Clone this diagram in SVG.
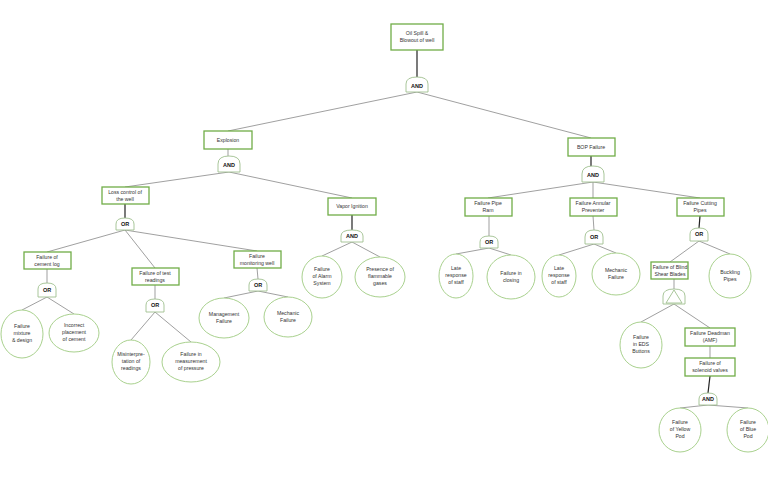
<svg xmlns="http://www.w3.org/2000/svg" width="768" height="504" viewBox="0 0 768 504">
<style>
.b{fill:#fff;stroke:#70ad47;stroke-width:1.3}
.e{fill:#fff;stroke:#a9d18e;stroke-width:1}
.g{fill:#fff;stroke:#9fbf8f;stroke-width:0.9}
.c line{stroke:#777;stroke-width:0.7}
.c line.k{stroke:#222;stroke-width:1.2}
text{font-family:"Liberation Sans",Arial,sans-serif;font-size:5.2px;fill:#333;text-anchor:middle}
.gt{font-weight:bold;font-size:5.5px;fill:#111}
</style>
<rect width="768" height="504" fill="#fff"/>
<g class="c">
<line class="k" x1="417" y1="50" x2="417" y2="77"/>
<line x1="417" y1="92" x2="228" y2="131"/>
<line x1="417" y1="92" x2="591" y2="138"/>
<line x1="228" y1="149" x2="228" y2="156"/>
<line class="k" x1="591" y1="156" x2="591" y2="166"/>
<line x1="229" y1="172" x2="125" y2="187"/>
<line x1="229" y1="172" x2="352" y2="198"/>
<line class="k" x1="125" y1="204" x2="125" y2="218"/>
<line class="k" x1="352" y1="215" x2="352" y2="230"/>
<line x1="125" y1="230" x2="47" y2="252"/>
<line x1="125" y1="230" x2="155" y2="268"/>
<line x1="125" y1="230" x2="257" y2="251"/>
<line x1="47" y1="269" x2="47" y2="283"/>
<line x1="155" y1="285" x2="155" y2="299"/>
<line x1="257" y1="268" x2="258" y2="279"/>
<line x1="47" y1="297" x2="22" y2="310"/>
<line x1="47" y1="297" x2="74" y2="314"/>
<line x1="155" y1="312" x2="131" y2="340"/>
<line x1="155" y1="312" x2="191" y2="342"/>
<line x1="258" y1="291" x2="224" y2="298"/>
<line x1="258" y1="291" x2="288" y2="297"/>
<line x1="352" y1="242" x2="322" y2="256"/>
<line x1="352" y1="242" x2="380" y2="257"/>
<line x1="593" y1="182" x2="488" y2="198"/>
<line x1="593" y1="182" x2="593" y2="198"/>
<line x1="593" y1="182" x2="700" y2="198"/>
<line x1="489" y1="216" x2="489" y2="236"/>
<line x1="593" y1="216" x2="594" y2="230"/>
<line class="k" x1="700" y1="216" x2="699" y2="228"/>
<line x1="489" y1="248" x2="456" y2="254"/>
<line x1="489" y1="248" x2="511" y2="255"/>
<line x1="594" y1="244" x2="559" y2="255"/>
<line x1="594" y1="244" x2="616" y2="253"/>
<line x1="699" y1="241" x2="670" y2="262"/>
<line x1="699" y1="241" x2="730" y2="254"/>
<line x1="674" y1="279" x2="674" y2="289"/>
<line x1="674" y1="304" x2="641" y2="322"/>
<line x1="674" y1="304" x2="710" y2="328"/>
<line x1="710" y1="346" x2="710" y2="358"/>
<line class="k" x1="710" y1="376" x2="708" y2="393"/>
<line x1="708" y1="405" x2="680" y2="408"/>
<line x1="708" y1="405" x2="748" y2="408"/>
</g>
<g id="top"><rect class="b" x="391" y="24" width="52" height="26"/><text x="417" y="35">Oil Spill &amp;</text><text x="417" y="42">Blowout of well</text></g>
<g id="g-and1"><path class="g" d="M406 92V84Q406 77 417 77Q428 77 428 84V92Z"/><text class="gt" x="417" y="88">AND</text></g>
<g id="explosion"><rect class="b" x="204" y="131" width="48" height="18"/><text x="228" y="142">Explosion</text></g>
<g id="g-and2"><path class="g" d="M218 172V164Q218 156 229 156Q240 156 240 164V172Z"/><text class="gt" x="229" y="167">AND</text></g>
<g id="bop"><rect class="b" x="568" y="138" width="47" height="18"/><text x="591" y="149">BOP Failure</text></g>
<g id="g-and3"><path class="g" d="M582 182V174Q582 166 593 166Q604 166 604 174V182Z"/><text class="gt" x="593" y="177">AND</text></g>
<g id="loss"><rect class="b" x="102" y="187" width="47" height="17"/><text x="125" y="194">Loss control of</text><text x="125" y="201">the well</text></g>
<g id="g-or1"><path class="g" d="M116 230V224Q116 218 125 218Q134 218 134 224V230Z"/><text class="gt" x="125" y="226">OR</text></g>
<g id="vapor"><rect class="b" x="328" y="198" width="48" height="17"/><text x="352" y="208">Vapor Ignition</text></g>
<g id="g-and4"><path class="g" d="M341 242V236Q341 230 352 230Q363 230 363 236V242Z"/><text class="gt" x="352" y="238">AND</text></g>
<g id="cement"><rect class="b" x="24" y="252" width="47" height="17"/><text x="47" y="259">Failure of</text><text x="47" y="266">cement log</text></g>
<g id="g-or2"><path class="g" d="M38 297V289Q38 283 47 283Q56 283 56 289V297Z"/><text class="gt" x="47" y="292">OR</text></g>
<g id="test"><rect class="b" x="132" y="268" width="47" height="17"/><text x="155" y="275">Failure of test</text><text x="155" y="282">readings</text></g>
<g id="g-or3"><path class="g" d="M146 312V305Q146 299 155 299Q164 299 164 305V312Z"/><text class="gt" x="155" y="307">OR</text></g>
<g id="monitor"><rect class="b" x="234" y="251" width="47" height="17"/><text x="257" y="258">Failure</text><text x="257" y="265">monitoring well</text></g>
<g id="g-or4"><path class="g" d="M249 291V285Q249 279 258 279Q267 279 267 285V291Z"/><text class="gt" x="258" y="287">OR</text></g>
<g id="mix"><ellipse class="e" cx="22" cy="334" rx="21" ry="24"/><text x="22" y="328">Failure</text><text x="22" y="335">mixture</text><text x="22" y="342">&amp; design</text></g>
<g id="place"><ellipse class="e" cx="74" cy="333" rx="25" ry="19"/><text x="74" y="327">Incorrect</text><text x="74" y="334">placement</text><text x="74" y="341">of cement</text></g>
<g id="misint"><ellipse class="e" cx="131" cy="362" rx="19" ry="22"/><text x="131" y="356">Misinterpre-</text><text x="131" y="363">tation of</text><text x="131" y="370">readings</text></g>
<g id="measure"><ellipse class="e" cx="191" cy="362" rx="29" ry="20"/><text x="191" y="356">Failure in</text><text x="191" y="363">measurement</text><text x="191" y="370">of pressure</text></g>
<g id="mgmt"><ellipse class="e" cx="224" cy="318" rx="25" ry="20"/><text x="224" y="316">Management</text><text x="224" y="323">Failure</text></g>
<g id="mech1"><ellipse class="e" cx="288" cy="317" rx="24" ry="20"/><text x="288" y="315">Mechanic</text><text x="288" y="322">Failure</text></g>
<g id="alarm"><ellipse class="e" cx="322" cy="277" rx="20" ry="21"/><text x="322" y="271">Failure</text><text x="322" y="278">of Alarm</text><text x="322" y="285">System</text></g>
<g id="gases"><ellipse class="e" cx="380" cy="277" rx="25" ry="20"/><text x="380" y="271">Presence of</text><text x="380" y="278">flammable</text><text x="380" y="285">gases</text></g>
<g id="piperam"><rect class="b" x="465" y="198" width="47" height="18"/><text x="488" y="205">Failure Pipe</text><text x="488" y="212">Ram</text></g>
<g id="g-or5"><path class="g" d="M480 248V242Q480 236 489 236Q498 236 498 242V248Z"/><text class="gt" x="489" y="244">OR</text></g>
<g id="annular"><rect class="b" x="570" y="198" width="47" height="18"/><text x="593" y="205">Failure Annular</text><text x="593" y="212">Preventer</text></g>
<g id="g-or6"><path class="g" d="M585 244V237Q585 230 594 230Q603 230 603 237V244Z"/><text class="gt" x="594" y="239">OR</text></g>
<g id="cutting"><rect class="b" x="677" y="198" width="47" height="18"/><text x="700" y="205">Failure Cutting</text><text x="700" y="212">Pipes</text></g>
<g id="g-or7"><path class="g" d="M690 241V234Q690 228 699 228Q708 228 708 234V241Z"/><text class="gt" x="699" y="236">OR</text></g>
<g id="late1"><ellipse class="e" cx="456" cy="276" rx="17" ry="22"/><text x="456" y="270">Late</text><text x="456" y="277">response</text><text x="456" y="284">of staff</text></g>
<g id="closing"><ellipse class="e" cx="511" cy="277" rx="24" ry="22"/><text x="511" y="275">Failure in</text><text x="511" y="282">closing</text></g>
<g id="late2"><ellipse class="e" cx="559" cy="276" rx="17" ry="21"/><text x="559" y="270">Late</text><text x="559" y="277">response</text><text x="559" y="284">of staff</text></g>
<g id="mech2"><ellipse class="e" cx="616" cy="274" rx="24" ry="21"/><text x="616" y="272">Mechanic</text><text x="616" y="279">Failure</text></g>
<g id="blind"><rect class="b" x="651" y="262" width="37" height="17"/><text x="670" y="269">Failure of Blind</text><text x="670" y="276">Shear Blades</text></g>
<g id="buckling"><ellipse class="e" cx="730" cy="276" rx="21" ry="22"/><text x="730" y="274">Buckling</text><text x="730" y="281">Pipes</text></g>
<g id="g-inh"><path class="g" d="M663 304V296Q663 289 674 289Q685 289 685 296V304Z"/><path class="g" d="M666 303L674 290L682 303Z"/></g>
<g id="eds"><ellipse class="e" cx="641" cy="345" rx="21" ry="23"/><text x="641" y="339">Failure</text><text x="641" y="346">in EDS</text><text x="641" y="353">Buttons</text></g>
<g id="deadman"><rect class="b" x="685" y="328" width="50" height="18"/><text x="710" y="335">Failure Deadman</text><text x="710" y="342">(AMF)</text></g>
<g id="solenoid"><rect class="b" x="685" y="358" width="50" height="18"/><text x="710" y="365">Failure of</text><text x="710" y="372">solenoid valves</text></g>
<g id="g-and5"><path class="g" d="M699 405V399Q699 393 708 393Q717 393 717 399V405Z"/><text class="gt" x="708" y="401">AND</text></g>
<g id="yellow"><ellipse class="e" cx="680" cy="430" rx="21" ry="22"/><text x="680" y="424">Failure</text><text x="680" y="431">of Yellow</text><text x="680" y="438">Pod</text></g>
<g id="blue"><ellipse class="e" cx="748" cy="430" rx="21" ry="22"/><text x="748" y="424">Failure</text><text x="748" y="431">of Blue</text><text x="748" y="438">Pod</text></g>
</svg>
